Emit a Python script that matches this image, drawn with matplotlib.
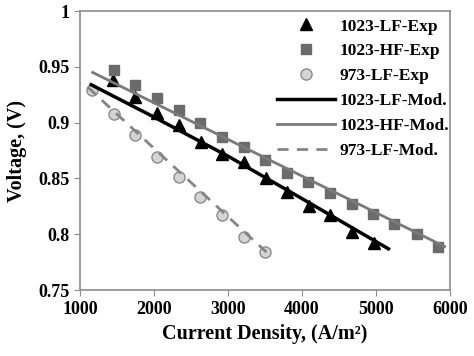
import numpy as np
import matplotlib
matplotlib.use("Agg")
from matplotlib import pyplot as plt

lf1023_x = [1440, 1740, 2040, 2340, 2630, 2920, 3220, 3510, 3800, 4100, 4380, 4680, 4980]
lf1023_y = [0.938, 0.923, 0.909, 0.898, 0.883, 0.872, 0.865, 0.850, 0.838, 0.825, 0.817, 0.802, 0.792]

hf1023_x = [1460, 1745, 2045, 2340, 2620, 2915, 3220, 3500, 3795, 4085, 4380, 4680, 4965, 5250, 5550, 5840]
hf1023_y = [0.947, 0.934, 0.922, 0.911, 0.900, 0.887, 0.878, 0.867, 0.855, 0.847, 0.837, 0.827, 0.818, 0.809, 0.800, 0.789]

lf973_x = [1160, 1460, 1745, 2035, 2340, 2620, 2915, 3215, 3500]
lf973_y = [0.929, 0.908, 0.889, 0.869, 0.851, 0.833, 0.817, 0.798, 0.784]

# model curves
lf1023_mod_x = [1150, 2000, 3000, 4000, 5170]
lf1023_mod_y = [0.934, 0.905, 0.870, 0.832, 0.787]

hf1023_mod_x = [1170, 3500, 5930]
hf1023_mod_y = [0.945, 0.8686, 0.789]

lf973_mod_x = [1100, 3520]
lf973_mod_y = [0.932, 0.784]

plt.rcParams['font.family'] = ['Liberation Serif', 'DejaVu Serif']
plt.rcParams['font.weight'] = 'bold'

fig = plt.figure(figsize=(4.74, 3.56), dpi=100)
ax = fig.add_axes([0.169, 0.185, 0.780, 0.784])

ax.plot(lf1023_x, lf1023_y, '^', color='black', markersize=8, label='1023-LF-Exp')
ax.plot(hf1023_x, hf1023_y, 's', color='#6b6b6b', markersize=7.5, label='1023-HF-Exp')
ax.plot(lf973_x, lf973_y, 'o', color='#d4d4d4', markeredgecolor='#8a8a8a',
        markeredgewidth=1, markersize=8, label='973-LF-Exp')
ax.plot(lf1023_mod_x, lf1023_mod_y, '-', color='black', lw=2.5, label='1023-LF-Mod.')
ax.plot(hf1023_mod_x, hf1023_mod_y, '-', color='#7a7a7a', lw=2, label='1023-HF-Mod.')
ax.plot(lf973_mod_x, lf973_mod_y, '--', color='#858585', lw=2, dashes=(4, 3),
        label='973-LF-Mod.')

ax.set_xlim(1000, 6000)
ax.set_ylim(0.75, 1.0)
ax.set_xticks(np.arange(1000, 6001, 1000))
ax.set_yticks([0.75, 0.8, 0.85, 0.9, 0.95, 1.0])
ax.set_yticklabels(['0.75', '0.8', '0.85', '0.9', '0.95', '1'])

for s in ax.spines.values():
    s.set_color('#8c8c8c')
    s.set_linewidth(1.2)
ax.tick_params(direction='out', length=4, color='#8c8c8c', labelsize=13)
ax.tick_params(axis='x', pad=4)

ax.set_xlabel('Current Density, (A/m²)', fontsize=14.5, fontweight='bold')
ax.set_ylabel('Voltage, (V)', fontsize=14.5, fontweight='bold', labelpad=8)

ax.legend(loc='upper right', bbox_to_anchor=(1.027, 1.011), frameon=False,
          fontsize=12.5, handlelength=3.3, labelspacing=0.5,
          handletextpad=0.3, borderaxespad=0.2)

fig.savefig('out.png', dpi=100)
